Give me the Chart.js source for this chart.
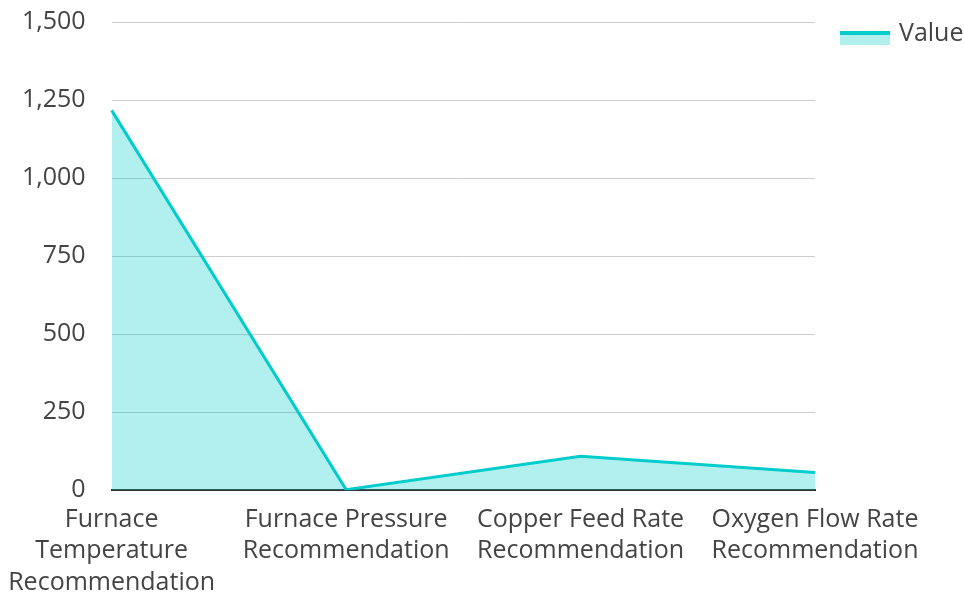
<!DOCTYPE html>
<html>
<head>
<meta charset="utf-8">
<script src="https://cdn.jsdelivr.net/npm/chart.js@4/dist/chart.umd.min.js"></script>
<style>
  html, body { margin: 0; padding: 0; background: #fff; }
  #wrap { width: 964px; height: 592px; }
</style>
</head>
<body>
<div id="wrap"><canvas id="c" width="964" height="592"></canvas></div>
<script>
const categories = [
  ["Furnace", "Temperature", "Recommendation"],
  ["Furnace Pressure", "Recommendation"],
  ["Copper Feed Rate", "Recommendation"],
  ["Oxygen Flow Rate", "Recommendation"]
];
const seriesName = "Value";
const values = [1217, 2, 109, 57];
const yTicks = [0, 250, 500, 750, 1000, 1250, 1500];

const lineColor = "#00cccc";
const fillColor = "rgba(0, 204, 204, 0.3)";
const textColor = "#444444";
const fontFamily = "'Open Sans', 'Noto Sans', sans-serif";
const fontSize = 25;

// Series key at the top right: a line over its filled area, then the name
const seriesKey = {
  id: "seriesKey",
  afterDraw(chart) {
    const ctx = chart.ctx;
    const area = chart.chartArea;
    const ds = chart.data.datasets[0];
    const x = area.right + 25;
    const y = area.top + 9;
    ctx.save();
    ctx.fillStyle = ds.backgroundColor;
    ctx.fillRect(x, y, 50, 14);
    ctx.fillStyle = ds.borderColor;
    ctx.fillRect(x, y, 50, 4);
    ctx.fillStyle = textColor;
    ctx.font = fontSize + "px " + fontFamily;
    ctx.textBaseline = "middle";
    ctx.textAlign = "left";
    ctx.fillText(ds.label, x + 59, y + 3);
    ctx.restore();
  }
};

new Chart(document.getElementById("c"), {
  type: "line",
  data: {
    labels: categories,
    datasets: [{
      label: seriesName,
      data: values,
      borderColor: lineColor,
      backgroundColor: fillColor,
      borderWidth: 3,
      fill: "origin",
      tension: 0,
      pointRadius: 0,
      pointHoverRadius: 0
    }]
  },
  plugins: [seriesKey],
  options: {
    responsive: false,
    animation: false,
    layout: { padding: { top: 22, right: 149, bottom: -6, left: 22 } },
    plugins: {
      tooltip: { enabled: false },
      legend: { display: false }
    },
    scales: {
      x: {
        offset: false,
        grid: {
          display: true,
          drawOnChartArea: false,
          drawTicks: true,
          tickLength: 14,
          tickColor: "rgba(0,0,0,0)",
          color: "rgba(0,0,0,0)"
        },
        border: { display: true, color: "#333333", width: 2 },
        ticks: {
          color: textColor,
          font: { family: fontFamily, size: fontSize, lineHeight: 1.25 },
          padding: 0,
          maxRotation: 0,
          autoSkip: false
        }
      },
      y: {
        min: 0,
        max: 1500,
        afterBuildTicks: (axis) => { axis.ticks = yTicks.map(v => ({ value: v })); },
        grid: {
          color: "#cccccc",
          lineWidth: 1,
          drawTicks: true,
          tickLength: 26,
          tickColor: "rgba(0,0,0,0)"
        },
        border: { display: false },
        ticks: {
          color: textColor,
          font: { family: fontFamily, size: fontSize },
          padding: 0,
          callback: (v) => v.toLocaleString("en-US")
        }
      }
    }
  }
});
</script>
</body>
</html>
